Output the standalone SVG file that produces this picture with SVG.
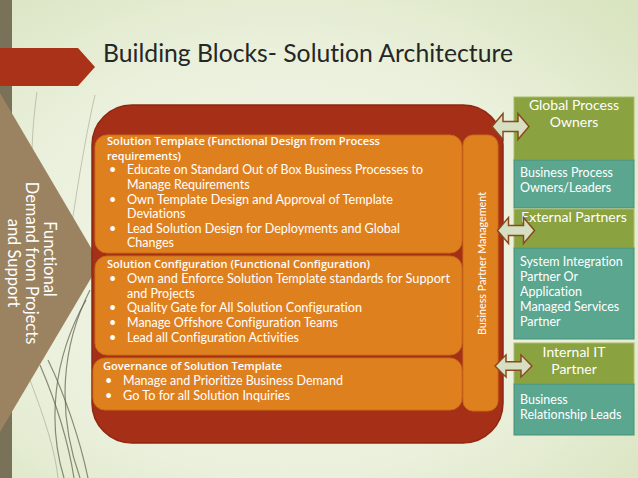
<svg xmlns="http://www.w3.org/2000/svg" width="638" height="478" viewBox="0 0 638 478">
<defs>
<radialGradient id="bg" cx="0.45" cy="0.55" r="0.75">
<stop offset="0" stop-color="#f5f7ee"/>
<stop offset="0.6" stop-color="#eaf0db"/>
<stop offset="1" stop-color="#d9e4c0"/>
</radialGradient>
<path id="dbl" d="M-18.5 0 L-7.5 -13 L-7.5 -5 L7.5 -5 L7.5 -13 L18.5 0 L7.5 13 L7.5 5 L-7.5 5 L-7.5 13 Z"/>
<style>
.t{font-family:Lato,"Open Sans","Liberation Sans",sans-serif;fill:#ffffff;font-variant-ligatures:none;font-feature-settings:"liga" 0;}
.b{font-size:12.5px;}
.h{font-family:"Open Sans",Lato,"Liberation Sans",sans-serif;font-size:11.5px;font-weight:600;}
.r{font-size:12.5px;}
.g{font-size:14px;}
.org{fill:#df801f;stroke:#c96c17;stroke-width:1;}
.grn{fill:#8aa23f;stroke:#a9bc6c;stroke-width:1;}
.tea{fill:#5ba68f;stroke:#48907a;stroke-width:1;}
.arr{fill:#d6dfc1;stroke:#8a4a1e;stroke-width:1.5;stroke-linejoin:miter;}
.deco{fill:none;stroke:#5f5e4a;stroke-width:1.2;opacity:0.7;}
.decol{fill:none;stroke:#8f907c;stroke-width:0.8;opacity:0.6;}
</style>
</defs>
<rect x="0" y="0" width="638" height="478" fill="url(#bg)"/>
<g id="background-decor">
<path class="decol" d="M37 92 C30 140 30 200 34 260"/>
<path class="decol" d="M95 95 C80 160 70 240 60 300"/>
<path class="deco" d="M90 290 C62 345 56 410 80 478"/>
<path class="deco" d="M86 300 C52 360 48 425 64 478"/>
<path class="deco" d="M40 365 C55 400 68 440 74 478"/>
<path class="decol" d="M30 380 C45 420 55 450 58 478"/>
<path class="deco" d="M48 360 C65 395 80 440 88 478"/>
</g>
<rect x="0" y="0" width="12" height="478" fill="#7a7159"/>
<polygon id="title-banner" points="0,48 78,48 95,67 78,86 0,86" fill="#a93218"/>
<text class="t" x="103" y="62" style="font-size:25px;fill:#262626" textLength="410" lengthAdjust="spacingAndGlyphs">Building Blocks- Solution Architecture</text>

<g id="demand-triangle">
<polygon points="0,93 100,263 0,432" fill="#9b8361"/>
<text class="t" style="font-size:16.5px" text-anchor="middle" transform="translate(44,259) rotate(90)">Functional</text>
<text class="t" style="font-size:16.5px" text-anchor="middle" transform="translate(26,263) rotate(90)">Demand from Projects</text>
<text class="t" style="font-size:16.5px" text-anchor="middle" transform="translate(8,263) rotate(90)">and Support</text>
</g>

<g id="solution-architecture">
<rect x="92" y="105" width="411" height="338" rx="40" fill="#a62f17" stroke="#8e2812" stroke-width="1.5"/>
</g>

<g id="solution-template">
<rect class="org" x="95" y="135" width="367" height="118" rx="12"/>
<text class="t h" x="107" y="145" textLength="273" lengthAdjust="spacingAndGlyphs">Solution Template (Functional Design from Process</text>
<text class="t h" x="107" y="159.5" textLength="74" lengthAdjust="spacingAndGlyphs">requirements)</text>
<text class="t b" x="109" y="174">•</text>
<text class="t b" x="127" y="174" textLength="296" lengthAdjust="spacingAndGlyphs">Educate on Standard Out of Box Business Processes to</text>
<text class="t b" x="127" y="189">Manage Requirements</text>
<text class="t b" x="109" y="204">•</text>
<text class="t b" x="127" y="204" textLength="266" lengthAdjust="spacingAndGlyphs">Own Template Design and Approval of Template</text>
<text class="t b" x="127" y="218">Deviations</text>
<text class="t b" x="109" y="233">•</text>
<text class="t b" x="127" y="233" textLength="273" lengthAdjust="spacingAndGlyphs">Lead Solution Design for Deployments and Global</text>
<text class="t b" x="127" y="247">Changes</text>
</g>

<g id="solution-configuration">
<rect class="org" x="95" y="256" width="367" height="99" rx="12"/>
<text class="t h" x="107" y="268" textLength="263" lengthAdjust="spacingAndGlyphs">Solution Configuration (Functional Configuration)</text>
<text class="t b" x="109" y="283">•</text>
<text class="t b" x="127" y="283" textLength="323" lengthAdjust="spacingAndGlyphs">Own and Enforce Solution Template standards  for Support</text>
<text class="t b" x="127" y="298">and Projects</text>
<text class="t b" x="109" y="312">•</text>
<text class="t b" x="127" y="312" textLength="235" lengthAdjust="spacingAndGlyphs">Quality Gate for  All Solution Configuration</text>
<text class="t b" x="109" y="327">•</text>
<text class="t b" x="127" y="327" textLength="211" lengthAdjust="spacingAndGlyphs">Manage Offshore Configuration Teams</text>
<text class="t b" x="109" y="342">•</text>
<text class="t b" x="127" y="342" textLength="172" lengthAdjust="spacingAndGlyphs">Lead all Configuration Activities</text>
</g>

<g id="governance">
<rect class="org" x="93" y="358" width="369" height="52" rx="12"/>
<text class="t h" x="103" y="370" textLength="179" lengthAdjust="spacingAndGlyphs">Governance of Solution Template</text>
<text class="t b" x="105" y="385">•</text>
<text class="t b" x="123" y="385" textLength="220" lengthAdjust="spacingAndGlyphs">Manage and Prioritize Business Demand</text>
<text class="t b" x="105" y="400">•</text>
<text class="t b" x="123" y="400" textLength="167" lengthAdjust="spacingAndGlyphs">Go To for all Solution Inquiries</text>
</g>

<g id="business-partner-management">
<rect class="org" x="463" y="135" width="35" height="276" rx="10"/>
<text class="t" style="font-size:12px" text-anchor="middle" transform="translate(486,263.5) rotate(-90)" textLength="143" lengthAdjust="spacingAndGlyphs">Business Partner Management</text>
</g>

<g id="global-process-owners">
<rect class="grn" x="514" y="97" width="120" height="63"/>
<text class="t g" x="574" y="110" text-anchor="middle">Global Process</text>
<text class="t g" x="574" y="127" text-anchor="middle">Owners</text>
<rect class="tea" x="514" y="160" width="120" height="48"/>
<text class="t r" x="520" y="177">Business Process</text>
<text class="t r" x="520" y="192">Owners/Leaders</text>
</g>

<g id="external-partners">
<rect class="grn" x="514" y="209" width="120" height="39"/>
<text class="t g" x="574" y="222" text-anchor="middle">External Partners</text>
<rect class="tea" x="514" y="248" width="120" height="91"/>
<text class="t r" x="520" y="266">System Integration</text>
<text class="t r" x="520" y="281">Partner Or</text>
<text class="t r" x="520" y="296">Application</text>
<text class="t r" x="520" y="311">Managed Services</text>
<text class="t r" x="520" y="326">Partner</text>
</g>

<g id="internal-it-partner">
<rect class="grn" x="514" y="343" width="120" height="41"/>
<text class="t g" x="574" y="357" text-anchor="middle">Internal IT</text>
<text class="t g" x="574" y="374" text-anchor="middle">Partner</text>
<rect class="tea" x="514" y="384" width="120" height="51"/>
<text class="t r" x="520" y="404">Business</text>
<text class="t r" x="520" y="419">Relationship Leads</text>
</g>

<g id="connectors">
<use href="#dbl" class="arr" transform="translate(510.5,126.5)"/>
<use href="#dbl" class="arr" transform="translate(516,230.5)"/>
<use href="#dbl" class="arr" transform="translate(513.5,366) scale(1,0.85)"/>
</g>
</svg>
